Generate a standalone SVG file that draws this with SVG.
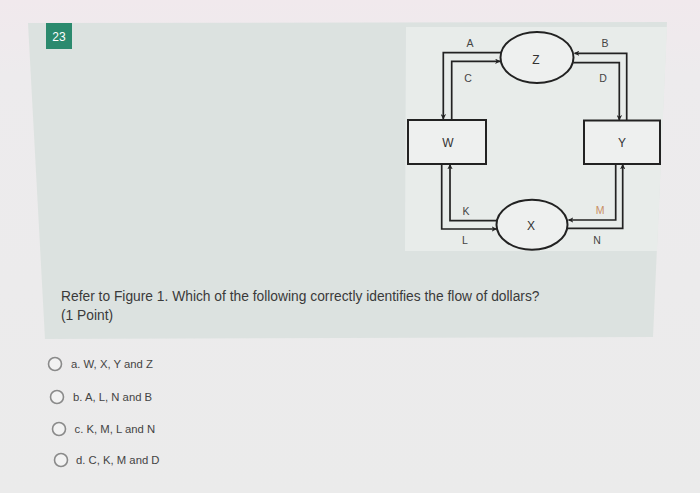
<svg xmlns="http://www.w3.org/2000/svg" width="700" height="493" viewBox="0 0 700 493">
<defs>
<marker id="arr" viewBox="0 0 10 10" refX="9" refY="5" markerWidth="5.5" markerHeight="5.5" orient="auto" markerUnits="userSpaceOnUse">
<path d="M0,0 L10,5 L0,10 L3,5 Z" fill="#222"/>
</marker>
<linearGradient id="bg" x1="0" y1="0" x2="0" y2="1">
<stop offset="0" stop-color="#f1e9ed"/>
<stop offset="0.15" stop-color="#edebed"/>
<stop offset="1" stop-color="#ebebeb"/>
</linearGradient>
</defs>
<style>
.flow{fill:none;stroke:#222;stroke-width:1.7}
.box{fill:#eef0ef;stroke:#222;stroke-width:2}
.ell{fill:#eef0ef;stroke:#222;stroke-width:2}
.lbl{font-family:"Liberation Sans",Arial,sans-serif;font-size:10.5px;fill:#444;text-anchor:middle}
.node{font-family:"Liberation Sans",Arial,sans-serif;font-size:12px;fill:#333;text-anchor:middle}
.q{font-family:"Liberation Sans",Arial,sans-serif;font-size:13.8px;fill:#3a3a3a}
.opt{font-family:"Liberation Sans",Arial,sans-serif;font-size:11.3px;fill:#444}
.radio{fill:#f2f2f2;stroke:#8a8a8a;stroke-width:1.6}
</style>
<rect x="0" y="0" width="700" height="493" fill="url(#bg)"/>
<polygon points="28,23 667,22 653,337 45,339" fill="#dce2e0"/>
<polygon points="406,27 667,27 657,251 405,251" fill="#e8ecea"/>
<g id="badge">
<rect x="46" y="23" width="26" height="26" fill="#2b8a6e"/>
<text x="59" y="40.5" font-family="Liberation Sans, Arial, sans-serif" font-size="12" fill="#ffffff" text-anchor="middle">23</text>
</g>
<g id="connectors">
<path id="A" class="flow" d="M501,52.7 H443.3 V119" marker-end="url(#arr)"/>
<path id="C" class="flow" d="M451.7,120 V61.3 H500" marker-end="url(#arr)"/>
<path id="B" class="flow" d="M626.7,120.5 V53.3 H574.5" marker-end="url(#arr)"/>
<path id="D" class="flow" d="M573.5,62.7 H619.3 V120" marker-end="url(#arr)"/>
<path id="K" class="flow" d="M497,220.7 H450 V164.5" marker-end="url(#arr)"/>
<path id="L" class="flow" d="M441.7,164 V229 H496.5" marker-end="url(#arr)"/>
<path id="M" class="flow" d="M615.7,164 V220 H568.5" marker-end="url(#arr)"/>
<path id="N" class="flow" d="M567.5,228.3 H622.7 V164.5" marker-end="url(#arr)"/>
<text class="lbl" x="470" y="46.5">A</text>
<text class="lbl" x="605" y="46.5">B</text>
<text class="lbl" x="468" y="81.5">C</text>
<text class="lbl" x="603" y="81.5">D</text>
<text class="lbl" x="466" y="214.5">K</text>
<text class="lbl" x="465" y="244">L</text>
<text class="lbl" x="600" y="214" style="fill:#c98f66">M</text>
<text class="lbl" x="597" y="243.5">N</text>
</g>
<g id="W">
<rect class="box" x="408" y="120" width="78" height="44"/>
<text class="node" x="448" y="146.5">W</text>
</g>
<g id="Y">
<rect class="box" x="584" y="120.5" width="76" height="43.5"/>
<text class="node" x="622" y="146.5">Y</text>
</g>
<g id="Z">
<ellipse class="ell" cx="537" cy="57.5" rx="36.5" ry="25.5"/>
<text class="node" x="536" y="63.5">Z</text>
</g>
<g id="X">
<ellipse class="ell" cx="532" cy="224.7" rx="35.5" ry="25"/>
<text class="node" x="531" y="229.5">X</text>
</g>
<text class="q" x="61" y="301">Refer to Figure 1. Which of the following correctly identifies the flow of dollars?</text>
<text class="q" x="61" y="319.5">(1 Point)</text>
<g id="optA">
<circle class="radio" cx="55" cy="364" r="6.5"/>
<text class="opt" x="71" y="368">a. W, X, Y and Z</text>
</g>
<g id="optB">
<circle class="radio" cx="57" cy="397" r="6.5"/>
<text class="opt" x="73" y="401">b. A, L, N and B</text>
</g>
<g id="optC">
<circle class="radio" cx="59" cy="429" r="6.5"/>
<text class="opt" x="74.5" y="433">c. K, M, L and N</text>
</g>
<g id="optD">
<circle class="radio" cx="61" cy="460" r="6.5"/>
<text class="opt" x="76" y="464">d. C, K, M and D</text>
</g>
</svg>
